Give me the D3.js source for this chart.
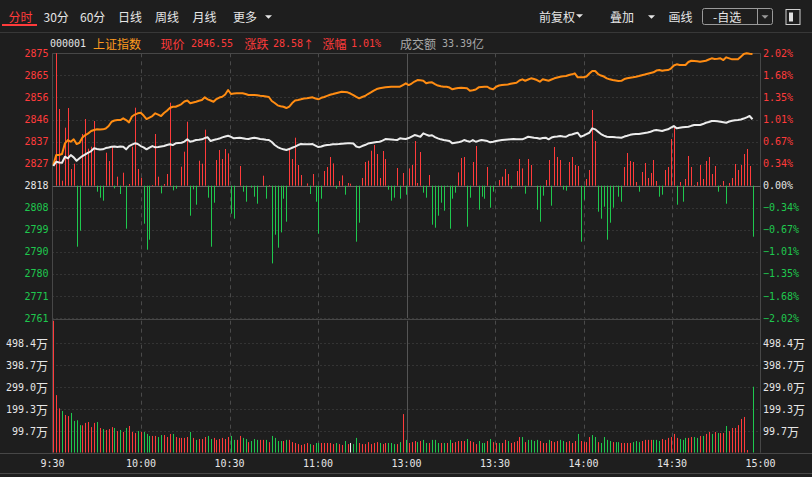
<!DOCTYPE html>
<html>
<head>
<meta charset="utf-8">
<script src="https://cdn.jsdelivr.net/npm/d3@7"></script>
<style>
body { margin: 0; background: #1e1e1e; }
svg { display: block; }
</style>
</head>
<body>
<svg id="chart" width="812" height="477"></svg>
<script>
// previous close of 上证指数
var preClose = 2817.97;

var timeLabels = ["9:30", "10:00", "10:30", "11:00", "13:00", "13:30", "14:00", "14:30", "15:00"];

// weighted index (white line), one value per minute 9:30..11:30, 13:01..15:00
var indexPrice = [
2826.42,2828.27,2827.92,2827.84,2830.42,2829.73,2831.15,2830.16,2828.70,2829.73,
2830.72,2831.45,2832.14,2832.87,2834.03,2833.73,2833.51,2833.60,2834.16,2834.37,
2834.72,2834.80,2834.59,2834.80,2834.72,2833.60,2835.02,2835.66,2836.18,2835.88,
2835.02,2834.46,2833.60,2834.37,2835.02,2834.46,2834.59,2834.80,2835.02,2835.45,
2835.75,2835.45,2836.18,2836.31,2836.44,2836.95,2837.90,2836.87,2837.17,2837.60,
2837.73,2837.90,2838.46,2838.76,2837.17,2837.60,2837.90,2838.24,2838.76,2839.10,
2839.45,2838.98,2838.33,2838.46,2838.59,2838.37,2838.16,2838.03,2838.33,2838.59,
2838.33,2838.03,2837.90,2837.73,2837.60,2836.74,2835.45,2834.59,2834.03,2833.60,
2833.30,2833.73,2834.29,2834.80,2835.45,2835.88,2835.79,2835.75,2835.79,2835.88,
2835.23,2834.59,2834.80,2835.23,2835.45,2835.58,2835.75,2835.79,2835.88,2836.01,
2836.09,2836.18,2836.18,2836.09,2834.80,2834.46,2835.02,2835.45,2836.09,2836.31,
2836.52,2836.74,2836.87,2837.38,2838.03,2837.94,2837.81,2837.69,2837.60,2838.33,
2838.20,2838.03,2838.46,2839.10,2839.75,2839.41,2839.02,2840.48,2839.96,2839.45,
2839.66,2838.89,2838.33,2837.90,2837.60,2837.38,2837.17,2836.18,2836.40,2836.61,
2836.95,2837.60,2837.17,2836.87,2837.60,2836.87,2837.26,2837.60,2837.38,2837.17,
2836.61,2836.83,2837.17,2837.38,2837.60,2837.73,2837.86,2837.94,2838.03,2837.99,
2837.94,2837.90,2838.46,2839.02,2838.80,2838.59,2838.46,2838.12,2838.46,2838.59,
2837.90,2838.67,2839.02,2839.10,2839.32,2839.10,2839.02,2839.75,2839.96,2840.39,
2840.74,2839.02,2839.53,2840.18,2840.74,2842.63,2842.20,2841.17,2840.18,2839.53,
2839.02,2838.89,2838.89,2838.76,2838.67,2838.59,2839.10,2839.45,2839.84,2840.09,
2840.18,2840.18,2840.39,2840.61,2840.82,2841.17,2841.68,2841.90,2841.68,2841.47,
2841.90,2842.20,2842.97,2843.62,2842.63,2842.85,2843.06,2843.19,2843.32,2843.71,
2844.05,2844.05,2844.05,2844.48,2845.04,2845.34,2845.77,2845.77,2845.68,2845.47,
2845.25,2845.04,2845.55,2845.90,2846.07,2846.20,2846.41,2846.84,2847.36,2847.92,
2846.55];

// unweighted index (orange line)
var equalPrice = [
2826.85,2831.15,2831.15,2831.58,2836.18,2837.60,2836.87,2837.90,2835.88,2836.44,
2838.67,2839.75,2840.48,2841.47,2841.90,2842.20,2842.11,2842.20,2842.54,2843.62,
2845.47,2845.98,2846.20,2846.20,2846.93,2846.20,2845.21,2847.70,2848.56,2849.08,
2849.34,2848.13,2846.63,2847.27,2847.92,2849.08,2848.56,2847.92,2849.21,2850.20,
2851.36,2851.92,2851.92,2852.43,2853.08,2854.15,2854.58,2853.38,2853.72,2854.07,
2854.46,2854.80,2855.96,2855.10,2854.58,2854.07,2855.23,2855.87,2856.22,2857.16,
2859.10,2857.38,2857.59,2857.68,2857.68,2857.68,2857.38,2856.95,2856.95,2856.95,
2856.82,2856.65,2856.52,2856.30,2856.09,2854.37,2853.51,2852.52,2852.13,2851.92,
2851.36,2852.00,2853.51,2854.58,2854.80,2855.10,2855.44,2855.53,2855.75,2855.96,
2855.44,2855.10,2855.75,2856.13,2856.61,2857.08,2857.38,2857.72,2858.07,2858.37,
2858.24,2858.11,2857.59,2856.95,2856.18,2855.53,2856.09,2856.52,2857.38,2858.11,
2858.88,2859.53,2859.83,2860.05,2860.26,2860.39,2860.48,2860.52,2860.52,2860.52,
2861.25,2861.98,2861.25,2861.89,2862.75,2863.40,2863.27,2863.10,2861.98,2862.32,
2862.41,2861.68,2861.03,2860.69,2860.52,2860.52,2860.17,2859.40,2859.74,2860.00,
2860.09,2859.96,2859.83,2858.80,2858.97,2859.31,2860.26,2860.39,2860.48,2860.52,
2859.74,2859.40,2860.52,2861.03,2861.25,2861.38,2861.51,2861.77,2862.02,2862.24,
2863.18,2863.70,2863.10,2863.61,2864.13,2863.83,2863.40,2862.67,2863.70,2863.40,
2863.10,2863.61,2864.13,2864.47,2864.82,2864.99,2865.12,2865.55,2865.85,2866.28,
2864.56,2864.56,2864.56,2864.90,2866.19,2867.27,2867.27,2865.98,2865.33,2864.90,
2864.13,2863.70,2863.40,2863.18,2862.97,2863.06,2863.83,2864.13,2864.39,2864.56,
2864.82,2865.12,2865.46,2865.76,2866.11,2866.41,2866.71,2867.48,2867.70,2867.40,
2867.61,2867.70,2868.34,2869.63,2870.15,2869.85,2869.85,2869.85,2871.14,2871.70,
2871.57,2871.44,2871.27,2871.48,2871.70,2872.21,2872.73,2872.43,2872.56,2872.73,
2872.00,2873.16,2872.73,2872.30,2872.30,2872.30,2873.42,2874.58,2874.88,2874.67,
2874.58];

// red / green strength bars around the zero line
var strength = [
0,140,76.7,5,58,77.7,16.7,22,-61,-45,
51.7,66.7,37,39,64.7,-6,-12,-15,33,24.7,
39.7,-2.7,9,-8.3,13,-43,1.7,39,78,16.7,
8,-38,-64,-54,0.7,51.7,9,-7.7,1.7,11.7,
83,-4.7,-3,0,19,34,64,-30,-3.7,-19,
25,22,56,-12,-61,-17,25.7,35.7,26.7,36.7,
32.3,-28,-33,0,19.7,-6,-16,0,-2,-11,
-18,0,10,-13,0.7,-77.7,-49,-62,-46.7,-13,
-36,38,26.7,48,20.7,10.7,0,2.3,-8.3,11.7,
-16,-48,-13,14.7,18.7,28.7,22.3,-3,4.7,10.3,
-9,2.7,2,0,-56,-37,7.7,23.7,25,35,
40.7,31.7,7.7,34.7,26.7,-4,-15,-12,17.7,-13,
12.7,-9,17.3,20.7,44.7,2.7,33.7,-7,-12,10.7,
-39,-42,-30,-17,-25,-1,-43,-13,-7,13.3,
27.7,28.7,-41,-12,23.7,39.7,-24,-11,-13,18.7,
-22,-6,0,5.7,9,16.7,11.7,-3,0,14.7,
26.7,17.3,-8,26.7,20.7,0,-24,-36,-10,5.7,
25.7,-20,38.7,28.7,25.7,-4,-5,23.7,28.7,20.7,
19.7,-56,-14,6.7,15.7,75.7,44.7,-26,-33,-21,
-54,-37,-22,-1,-11,-16,18.7,32.7,24.7,23.7,
3.7,-6,13.7,22.7,7.7,12.7,25.7,4.7,-11,-9,
15.7,18.7,46.7,59.7,-19,3.7,-16,6.7,29.7,18.7,
0.7,3.7,20.7,6.7,24.7,28.7,11.7,19.7,-6,0.7,
4.7,-18,2.7,7.7,21.7,15.7,20.7,31.7,36.7,19.7,
-51];

// volume per minute, in 万 (hands)
var volume = [
700,261,201,189,171,166,180,144,147,125,
124,135,139,116,135,139,112,107,103,107,
116,112,98,103,94,112,121,94,89,98,
94,94,85,76,76,76,71,80,80,71,
85,85,71,67,67,67,71,94,67,58,
62,62,71,76,62,67,58,62,67,62,
71,76,58,58,76,67,62,48,53,62,
58,58,58,58,48,76,67,53,53,53,
58,58,48,44,39,35,39,44,39,35,
44,44,44,44,44,44,39,44,39,35,
53,39,44,39,67,44,39,39,48,39,
44,48,44,39,44,44,44,39,39,48,
175,58,44,48,53,48,53,58,44,44,
58,58,44,44,44,44,58,44,48,53,
53,53,62,53,48,39,53,44,44,53,
62,48,44,44,44,58,53,44,48,53,
71,71,48,58,58,53,58,53,44,44,
58,53,48,53,58,53,48,53,44,53,
85,53,48,48,71,80,71,48,44,71,
58,53,48,48,48,44,44,44,44,48,
53,48,53,58,58,58,58,58,53,62,
58,67,71,85,67,62,58,67,67,71,
71,67,76,76,85,94,85,94,89,89,
89,121,98,112,112,125,153,162,12,0,
299];

// volume bar colour per minute: r up, g down, w flat
var volumeDir =
"rrrgrrgggg" + "rrrrrgrgrr" + "rgrgrgrrrg" + "rgggrrggrr" + "rgrrrrrgrg" +
"rrrggrrrrr" + "rggrrggrgg" + "grrgrggggr" + "grrrrrrrgr" + "ggrrrrrgrr" +
"grwggrrrrr" + "rrgrrgggrg" + "rgrrrgrggr" + "gggrgrgrrr" + "rrgrrrgggr" +
"grrgrrgrrr" + "rgrggggrrr" + "grrrggrrrr" + "grrrrggrgg" + "ggrggrrrrg" +
"ggrrrrgggr" + "rrrrrgggrr" + "ggrgrrgrgr" + "rgrrrrrrrr" + "g";

var volumeTicks = [99.7, 199.3, 299.0, 398.7, 498.4];

var colors = {
    bg: "#1e1e1e",
    up: "#ff3b3b",
    down: "#1ec84e",
    orange: "#ff8c12",
    white: "#ececec",
    axis: "#474747",
    grid: "#4a4a4a",
    text: "#e6e6e6"
};

var mono = "'DejaVu Sans Mono', 'Liberation Mono', monospace";
var cjk = "'Noto Sans CJK SC', 'Noto Sans', sans-serif";

var plot = { left: 52.5, right: 760.5, top: 53.3, bottom: 318.1 };
var volPane = { top: 320.7, bottom: 452.7 };

var svg = d3.select("#chart");

svg.append("rect")
    .attr("width", 812)
    .attr("height", 477)
    .attr("fill", colors.bg);

// Scales

var range = preClose * 0.0202;

var x = d3.scaleLinear()
    .domain([0, 240])
    .range([53.3, 752.5]);

var xTime = d3.scalePoint()
    .domain(timeLabels)
    .range([plot.left, plot.right]);

var yPrice = d3.scaleLinear()
    .domain([preClose - range, preClose + range])
    .range([plot.bottom, plot.top]);

var yPct = d3.scaleLinear()
    .domain([-2.02, 2.02])
    .range([plot.bottom, plot.top]);

var yStrength = d3.scaleLinear()
    .domain([-132.4, 132.4])
    .range([plot.bottom, plot.top]);

var yVol = d3.scaleLinear()
    .domain([0, 598.1])
    .range([volPane.bottom, volPane.top]);

var pctTicks = d3.range(-6, 7).map(function(k) { return k * 2.02 / 6; });

function tickColor(v) {
    if (Math.abs(v) < 1e-9) return colors.text;
    return v > 0 ? colors.up : colors.down;
}

// Toolbar

var toolbar = svg.append("g").attr("class", "toolbar");

var tabs = [
    { t: "分时", x: 8.5, c: colors.up },
    { t: "30分", x: 43.5 },
    { t: "60分", x: 80 },
    { t: "日线", x: 118 },
    { t: "周线", x: 155 },
    { t: "月线", x: 192.5 },
    { t: "更多", x: 233 },
    { t: "前复权", x: 539 },
    { t: "叠加", x: 610 },
    { t: "画线", x: 668.5 }
];

toolbar.selectAll("text.tab")
    .data(tabs)
    .enter().append("text")
    .attr("class", "tab")
    .attr("x", function(d) { return d.x; })
    .attr("y", 16.5)
    .attr("dominant-baseline", "central")
    .attr("fill", function(d) { return d.c || colors.text; })
    .style("font-family", cjk)
    .style("font-size", "12px")
    .text(function(d) { return d.t; });

toolbar.append("rect")
    .attr("x", 2).attr("y", 24)
    .attr("width", 35).attr("height", 2)
    .attr("fill", colors.up);

function triangle(cx, cy, w, fill) {
    toolbar.append("path")
        .attr("d", "M" + (cx - w) + "," + (cy - w / 2) + "L" + (cx + w) + "," + (cy - w / 2) + "L" + cx + "," + (cy + w / 2) + "Z")
        .attr("fill", fill);
}
triangle(268.5, 17, 3.5, colors.text);
triangle(579.5, 16, 3.5, colors.text);
triangle(651.5, 17, 3.5, colors.text);
triangle(765, 17, 3.5, "#9a9a9a");

toolbar.append("rect")
    .attr("x", 702.5).attr("y", 8.5)
    .attr("width", 70).attr("height", 16)
    .attr("rx", 2)
    .attr("fill", "none")
    .attr("stroke", "#9a9a9a");

toolbar.append("line")
    .attr("x1", 757.5).attr("x2", 757.5)
    .attr("y1", 9).attr("y2", 24)
    .attr("stroke", "#9a9a9a");

toolbar.append("text")
    .attr("x", 713)
    .attr("y", 16.5)
    .attr("dominant-baseline", "central")
    .attr("fill", colors.text)
    .style("font-family", cjk)
    .style("font-size", "12px")
    .text("-自选");

toolbar.append("rect")
    .attr("x", 786).attr("y", 9.5)
    .attr("width", 14).attr("height", 15)
    .attr("fill", "none")
    .attr("stroke", "#cfcfcf");

toolbar.append("rect")
    .attr("x", 789).attr("y", 12.5)
    .attr("width", 4).attr("height", 9)
    .attr("fill", "#e0e0e0");

svg.append("line")
    .attr("x1", 0).attr("x2", 812)
    .attr("y1", 32.5).attr("y2", 32.5)
    .attr("stroke", "#383838");

// Info row

var info = [
    { t: "000001", x: 50, c: colors.text, f: mono, s: 10 },
    { t: "上证指数", x: 93, c: "#ff9a1e", f: cjk, s: 12 },
    { t: "现价", x: 160.5, c: colors.up, f: cjk, s: 12 },
    { t: "2846.55", x: 191, c: colors.up, f: mono, s: 10 },
    { t: "涨跌", x: 244.5, c: colors.up, f: cjk, s: 12 },
    { t: "28.58", x: 273, c: colors.up, f: mono, s: 10 },
    { t: "↑", x: 303, c: colors.up, f: cjk, s: 11 },
    { t: "涨幅", x: 322.5, c: colors.up, f: cjk, s: 12 },
    { t: "1.01%", x: 351, c: colors.up, f: mono, s: 10 },
    { t: "成交额", x: 400, c: "#a8a8a8", f: cjk, s: 12 },
    { t: "33.39", x: 442, c: "#a8a8a8", f: mono, s: 10 },
    { t: "亿", x: 472, c: "#a8a8a8", f: cjk, s: 12 }
];

svg.append("g").selectAll("text")
    .data(info)
    .enter().append("text")
    .attr("x", function(d) { return d.x; })
    .attr("y", 43.5)
    .attr("dominant-baseline", "central")
    .attr("fill", function(d) { return d.c; })
    .style("font-family", function(d) { return d.f; })
    .style("font-size", function(d) { return d.s + "px"; })
    .text(function(d) { return d.t; });

// Grid

var grid = svg.append("g").attr("class", "grid");

grid.selectAll("line.hp")
    .data(pctTicks.filter(function(v) { return Math.abs(v) > 1e-9 && v < 2; }))
    .enter().append("line")
    .attr("x1", plot.left).attr("x2", plot.right)
    .attr("y1", function(d) { return Math.round(yPct(d)) + 0.5; })
    .attr("y2", function(d) { return Math.round(yPct(d)) + 0.5; })
    .attr("stroke", colors.grid)
    .attr("stroke-dasharray", "1,3");

grid.selectAll("line.hv")
    .data(volumeTicks)
    .enter().append("line")
    .attr("x1", plot.left).attr("x2", plot.right)
    .attr("y1", function(d) { return Math.round(yVol(d)) + 0.5; })
    .attr("y2", function(d) { return Math.round(yVol(d)) + 0.5; })
    .attr("stroke", colors.grid)
    .attr("stroke-dasharray", "1,3");

var innerTimes = timeLabels.slice(1, -1);

[[plot.top, plot.bottom], [volPane.top, volPane.bottom]].forEach(function(span) {
    grid.append("g").selectAll("line")
        .data(innerTimes)
        .enter().append("line")
        .attr("x1", function(d) { return Math.round(xTime(d)) + 0.5; })
        .attr("x2", function(d) { return Math.round(xTime(d)) + 0.5; })
        .attr("y1", span[0]).attr("y2", span[1])
        .attr("stroke", function(d) { return d === "13:00" ? "#555" : colors.grid; })
        .attr("stroke-dasharray", function(d) { return d === "13:00" ? null : "4,4"; });
});

// Frame

var frame = svg.append("g").attr("stroke", colors.axis).attr("fill", "none");

[plot.left, plot.right].forEach(function(xx) {
    frame.append("line")
        .attr("x1", xx).attr("x2", xx)
        .attr("y1", plot.top).attr("y2", volPane.bottom);
});
[Math.round(plot.top) + 0.5, 319.5].forEach(function(yy) {
    frame.append("line")
        .attr("x1", plot.left).attr("x2", plot.right)
        .attr("y1", yy).attr("y2", yy);
});
[Math.round(volPane.bottom) + 0.5, 473.5].forEach(function(yy) {
    frame.append("line")
        .attr("x1", 0).attr("x2", 812)
        .attr("y1", yy).attr("y2", yy);
});
frame.append("line")
    .attr("x1", plot.left).attr("x2", plot.right)
    .attr("y1", Math.round(yPct(0)) + 0.5)
    .attr("y2", Math.round(yPct(0)) + 0.5)
    .attr("stroke", "#6a6a6a");

// Strength bars

svg.append("clipPath").attr("id", "clipPrice")
    .append("rect")
    .attr("x", plot.left).attr("y", plot.top)
    .attr("width", plot.right - plot.left).attr("height", plot.bottom - plot.top);

svg.append("g")
    .attr("clip-path", "url(#clipPrice)")
    .selectAll("line")
    .data(strength.map(function(v, i) { return { i: i, v: v }; }).filter(function(d) { return d.v !== 0; }))
    .enter().append("line")
    .attr("x1", function(d) { return Math.round(x(d.i)) + 0.5; })
    .attr("x2", function(d) { return Math.round(x(d.i)) + 0.5; })
    .attr("y1", yStrength(0))
    .attr("y2", function(d) { return yStrength(d.v); })
    .attr("stroke", function(d) { return d.v > 0 ? colors.up : colors.down; })
    .attr("stroke-width", 1);

// Price lines

var line = d3.line()
    .x(function(d, i) { return x(i); })
    .y(function(d) { return yPrice(d); });

svg.append("path")
    .datum(equalPrice)
    .attr("d", line)
    .attr("fill", "none")
    .attr("stroke", colors.orange)
    .attr("stroke-width", 2)
    .attr("stroke-linejoin", "round");

svg.append("path")
    .datum(indexPrice)
    .attr("d", line)
    .attr("fill", "none")
    .attr("stroke", colors.white)
    .attr("stroke-width", 2)
    .attr("stroke-linejoin", "round");

// Volume bars

svg.append("clipPath").attr("id", "clipVol")
    .append("rect")
    .attr("x", plot.left).attr("y", volPane.top)
    .attr("width", plot.right - plot.left).attr("height", volPane.bottom - volPane.top);

var volColor = { r: colors.up, g: colors.down, w: "#f0f0f0" };

svg.append("g")
    .attr("clip-path", "url(#clipVol)")
    .selectAll("line")
    .data(volume.map(function(v, i) { return { i: i, v: v, c: volumeDir.charAt(i) }; }).filter(function(d) { return d.v > 0; }))
    .enter().append("line")
    .attr("x1", function(d) { return Math.round(x(d.i)) + 0.5; })
    .attr("x2", function(d) { return Math.round(x(d.i)) + 0.5; })
    .attr("y1", yVol(0))
    .attr("y2", function(d) { return yVol(d.v); })
    .attr("stroke", function(d) { return volColor[d.c]; })
    .attr("stroke-width", 1);

// Axis labels

var labels = svg.append("g").style("font-family", mono).style("font-size", "10px");

labels.selectAll("text.lp")
    .data(pctTicks)
    .enter().append("text")
    .attr("x", 48.5)
    .attr("y", function(d) { return yPct(d); })
    .attr("text-anchor", "end")
    .attr("dominant-baseline", "central")
    .attr("fill", tickColor)
    .text(function(d) { return d3.format(".0f")(preClose * (1 + d / 100)); });

labels.selectAll("text.rp")
    .data(pctTicks)
    .enter().append("text")
    .attr("x", 763)
    .attr("y", function(d) { return yPct(d); })
    .attr("dominant-baseline", "central")
    .attr("fill", tickColor)
    .text(function(d) { return d3.format(".2f")(d) + "%"; });

[{ x: 48, anchor: "end" }, { x: 763, anchor: "start" }].forEach(function(side) {
    var t = labels.append("g").selectAll("text")
        .data(volumeTicks)
        .enter().append("text")
        .attr("x", side.x)
        .attr("y", function(d) { return yVol(d); })
        .attr("text-anchor", side.anchor)
        .attr("dominant-baseline", "central")
        .attr("fill", colors.text);
    t.append("tspan").text(function(d) { return d.toFixed(1); });
    t.append("tspan").style("font-family", cjk).style("font-size", "12px").text("万");
});

labels.selectAll("text.time")
    .data(timeLabels)
    .enter().append("text")
    .attr("x", function(d) { return xTime(d); })
    .attr("y", 463.5)
    .attr("text-anchor", "middle")
    .attr("dominant-baseline", "central")
    .attr("fill", colors.text)
    .text(function(d) { return d; });
</script>
</body>
</html>
